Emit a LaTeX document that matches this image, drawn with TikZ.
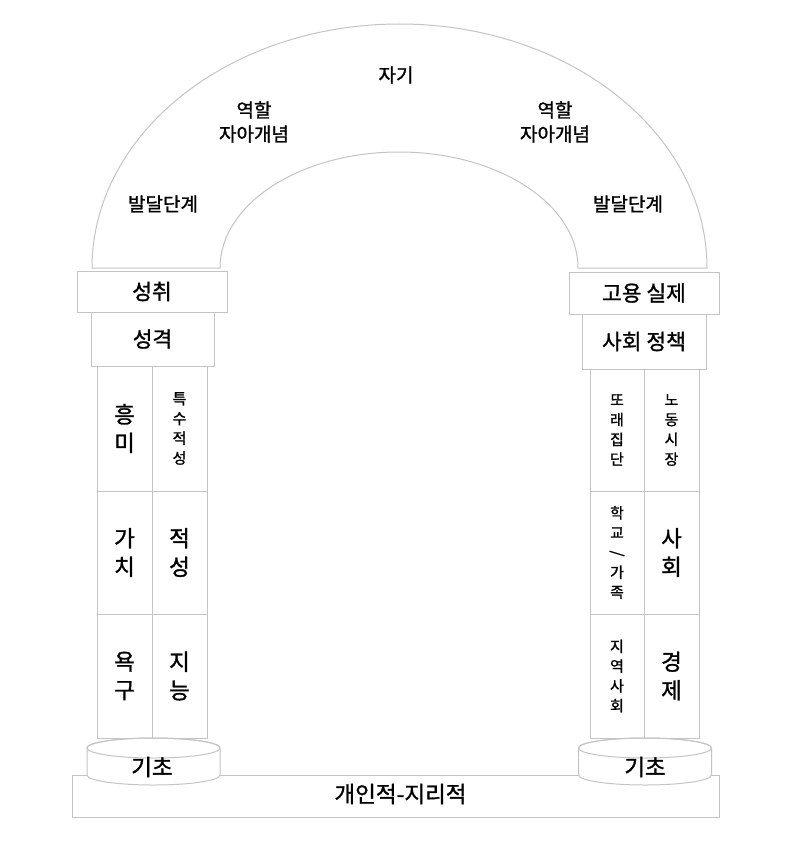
\documentclass[tikz,border=0pt]{standalone}
\usepackage{fontspec}
\setmainfont{Noto Sans CJK KR}[FakeBold=1.2]
\usetikzlibrary{positioning}
\definecolor{edge}{HTML}{C4C4C4}
\tikzset{
  ln/.style={draw=edge, line width=1pt},
  box/.style={ln, fill=white, rectangle, inner sep=0pt, align=center},
  cell/.style={box, minimum width=55pt},
  archtxt/.style={font=\fontsize{19}{24}\selectfont, align=center, inner sep=0pt},
  captxt/.style={font=\fontsize{21.5}{24}\selectfont},
  big/.style={font=\fontsize{22.5}{28.5}\selectfont},
  small/.style={font=\fontsize{15}{19.8}\selectfont},
  basetxt/.style={font=\fontsize{22.5}{26}\selectfont, inner sep=0pt},
}
\begin{document}
\begin{tikzpicture}[x=1pt,y=1pt]
\useasboundingbox[fill=white] (0,0) rectangle (800,-859);

% arch
\path[ln, fill=white] (92,-268) coordinate (aoL)
  arc[start angle=180, end angle=0, x radius=307.5, y radius=244] coordinate (aoR)
  -- (578,-268) coordinate (aiR)
  arc[start angle=0, end angle=180, x radius=179, y radius=116] coordinate (aiL)
  -- cycle;
\node[archtxt] (self) at (396,-75) {자기};
\node[archtxt] (roleL) at (254,-122) {역할\\자아개념};
\node[archtxt] (roleR) at (555,-122) {역할\\자아개념};
\node[archtxt] (stageL) at (163,-204) {발달단계};
\node[archtxt] (stageR) at (628,-204) {발달단계};

% base slab
\node[box, minimum width=647pt, minimum height=42pt] (slab) at (395.5,-796) {};
\node[basetxt] (slabt) at (400.5,-794) {개인적-지리적};

% left column
\node[box, captxt, minimum width=150pt, minimum height=41pt] (capL1) at (152,-291.5) {성취};
\node[box, captxt, minimum width=123pt, minimum height=54pt] (capL2) at (152.5,-339) {성격};
\node[cell, big, minimum height=125pt] (L11) at (124.5,-428.5) {흥\\미};
\node[cell, small, minimum height=125pt] (L12) at (179.5,-428.5) {특\\수\\적\\성};
\node[cell, big, minimum height=123pt] (L21) at (124.5,-552.5) {가\\치};
\node[cell, big, minimum height=123pt] (L22) at (179.5,-552.5) {적\\성};
\node[cell, big, minimum height=124pt] (L31) at (124.5,-676) {욕\\구};
\node[cell, big, minimum height=124pt] (L32) at (179.5,-676) {지\\능};

% right column
\node[box, captxt, minimum width=150pt, minimum height=42pt] (capR1) at (644,-293) {고용 실제};
\node[box, captxt, minimum width=124pt, minimum height=55pt] (capR2) at (644,-341.5) {사회 정책};
\node[cell, small, minimum width=54pt, minimum height=122pt] (R11) at (617,-430) {또\\래\\집\\단};
\node[cell, small, minimum width=55pt, minimum height=122pt] (R12) at (671.5,-430) {노\\동\\시\\장};
\node[cell, small, minimum width=54pt, minimum height=123pt] (R21) at (617,-552.5) {학\\교\\\rotatebox[origin=c]{-90}{/}\\가\\족};
\node[cell, big, minimum width=55pt, minimum height=123pt] (R22) at (671.5,-552.5) {사\\회};
\node[cell, small, minimum width=54pt, minimum height=124pt] (R31) at (617,-676) {지\\역\\사\\회};
\node[cell, big, minimum width=55pt, minimum height=124pt] (R32) at (671.5,-676) {경\\제};

% footings (cylinders)
\foreach \cx in {153.5, 645}{
  \path[ln, fill=white] (\cx-66.5,-748) -- (\cx-66.5,-775)
    arc[start angle=180, end angle=360, x radius=66.5, y radius=10]
    -- (\cx+66.5,-748)
    arc[start angle=0, end angle=180, x radius=66.5, y radius=10] -- cycle;
  \draw[ln] (\cx,-748) ellipse[x radius=66.5, y radius=10];
}
\node[basetxt] (footL) at (152,-767) {기초};
\node[basetxt] (footR) at (645,-767) {기초};
\end{tikzpicture}
\end{document}
